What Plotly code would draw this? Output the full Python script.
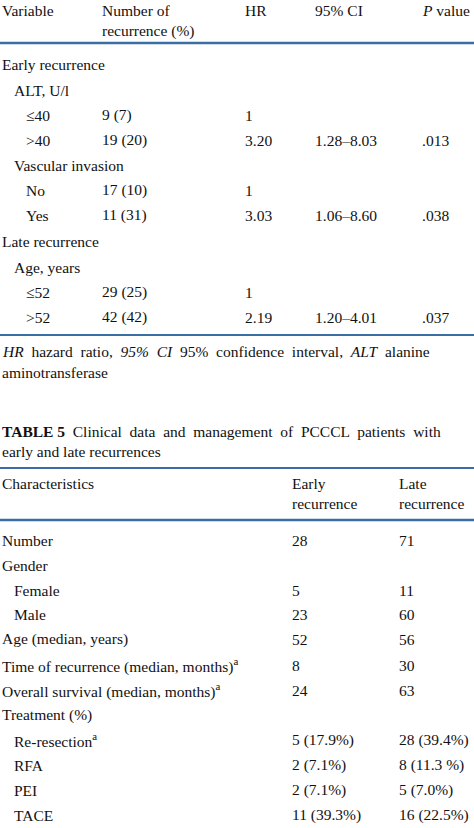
import plotly.graph_objects as go

# table 4 rows: (indent level, variable, number, HR, CI, P)
t4_header = ["Variable", "Number of<br>recurrence (%)", "HR", "95% CI", "<i>P</i> value"]
t4_var = ["Early recurrence", "ALT, U/l", "≤40", ">40", "Vascular invasion", "No", "Yes",
          "Late recurrence", "Age, years", "≤52", ">52"]
t4_level = [0, 1, 2, 2, 1, 2, 2, 0, 1, 2, 2]
t4_num = ["", "", "9 (7)", "19 (20)", "", "17 (10)", "11 (31)", "", "", "29 (25)", "42 (42)"]
t4_hr = ["", "", "1", "3.20", "", "1", "3.03", "", "", "1", "2.19"]
t4_ci = ["", "", "", "1.28–8.03", "", "", "1.06–8.60", "", "", "", "1.20–4.01"]
t4_p = ["", "", "", ".013", "", "", ".038", "", "", "", ".037"]
t4_note = ["<i>HR</i>  hazard  ratio,  <i>95%  CI</i>  95%  confidence  interval,  <i>ALT</i>  alanine",
           "aminotransferase"]

t5_title = ["<b>TABLE 5</b>  Clinical  data  and  management  of  PCCCL  patients  with",
            "early and late recurrences"]
t5_header = ["Characteristics", "Early<br>recurrence", "Late<br>recurrence"]
t5_char = ["Number", "Gender", "Female", "Male", "Age (median, years)",
           "Time of recurrence (median, months)<sup>a</sup>", "Overall survival (median, months)<sup>a</sup>",
           "Treatment (%)", "Re-resection<sup>a</sup>", "RFA", "PEI", "TACE"]
t5_level = [0, 0, 1, 1, 0, 0, 0, 0, 1, 1, 1, 1]
t5_early = ["28", "", "5", "23", "52", "8", "24", "", "5 (17.9%)", "2 (7.1%)", "2 (7.1%)", "11 (39.3%)"]
t5_late = ["71", "", "11", "60", "56", "30", "63", "", "28 (39.4%)", "8 (11.3 %)", "5 (7.0%)", "16 (22.5%)"]

W, H = 474, 828
FONT = dict(family="Liberation Serif, Times New Roman, serif", size=15.5, color="#111")
LINE = "#3a6fa6"

fig = go.Figure()
ann = []


def txt(x, y, s, anchor="middle"):
    ann.append(dict(x=x, y=y, xref="x", yref="y", text=s, showarrow=False,
                    xanchor="left", yanchor=anchor, align="left", font=FONT))


def hline(y, w=2):
    fig.add_shape(type="line", x0=0, x1=W, y0=y, y1=y, line=dict(color=LINE, width=w))


# table 4
t4_cols = [0, 100, 243, 313, 420]
for x, h in zip(t4_cols, t4_header):
    txt(x, 0, h, "top")
hline(43, 2.5)
row_y = [64, 90, 115, 140, 165, 190, 215, 241, 267, 292, 317]
for i, y in enumerate(row_y):
    txt(t4_level[i] * 12, y, t4_var[i])
    txt(t4_cols[1], y, t4_num[i])
    txt(t4_cols[2], y, t4_hr[i])
    txt(t4_cols[3], y, t4_ci[i])
    txt(t4_cols[4], y, t4_p[i])
hline(335, 2)
txt(0, 351, t4_note[0])
txt(0, 372, t4_note[1])

# table 5
txt(0, 431, t5_title[0])
txt(0, 451, t5_title[1])
hline(468, 2)
t5_cols = [0, 290, 397]
for x, h in zip(t5_cols, t5_header):
    txt(x, 473, h, "top")
hline(520, 2.5)
row_y5 = [540, 565, 590, 614, 639, 665, 690, 715, 740, 765, 790, 815]
for i, y in enumerate(row_y5):
    txt(t5_level[i] * 12, y, t5_char[i])
    txt(t5_cols[1], y, t5_early[i])
    txt(t5_cols[2], y, t5_late[i])

fig.update_layout(
    width=W, height=H, margin=dict(l=0, r=0, t=0, b=0),
    paper_bgcolor="white", plot_bgcolor="white",
    xaxis=dict(range=[0, W], visible=False, fixedrange=True),
    yaxis=dict(range=[H, 0], visible=False, fixedrange=True),
    annotations=ann, showlegend=False,
)
fig.write_html("out.html", config={"displayModeBar": False},
               post_script="document.body.style.margin='0';document.body.style.overflow='hidden';")
